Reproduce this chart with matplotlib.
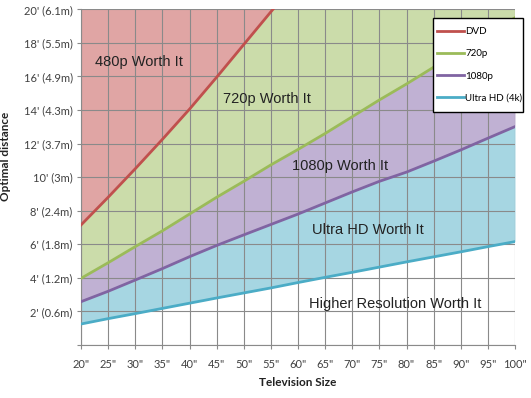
import matplotlib.pyplot as plt
from matplotlib.patches import Rectangle
import numpy as np

# TV size (inches) and optimal viewing distance (feet) for each resolution
sizes = [20, 25, 30, 35, 40, 45, 50, 55, 60, 65, 70, 75, 80, 85, 90, 95, 100]
dvd = [7.15, 8.8, 10.5, 12.25, 14.05, 15.95, 17.9, 19.85, 21.8, 23.75, 25.7, 27.65, 29.6, 31.55, 33.5, 35.45, 37.4]
p720 = [3.97, 4.9, 5.86, 6.8, 7.8, 8.8, 9.75, 10.73, 11.65, 12.6, 13.6, 14.6, 15.55, 16.55, 17.5, 18.5, 19.5]
p1080 = [2.58, 3.2, 3.87, 4.55, 5.26, 5.93, 6.56, 7.18, 7.8, 8.46, 9.12, 9.75, 10.3, 10.95, 11.62, 12.32, 13.01]
uhd = [1.25, 1.57, 1.87, 2.18, 2.49, 2.8, 3.1, 3.4, 3.72, 4.03, 4.33, 4.64, 4.95, 5.25, 5.55, 5.86, 6.16]

ytick_vals = [2, 4, 6, 8, 10, 12, 14, 16, 18, 20]
ytick_labels = ["2' (0.6m)", "4' (1.2m)", "6' (1.8m)", "8' (2.4m)", "10' (3m)",
                "12' (3.7m)", "14' (4.3m)", "16' (4.9m)", "18' (5.5m)", "20' (6.1m)"]
xtick_labels = ['%d"' % s for s in range(20, 101, 5)]

plt.rcParams['font.family'] = ['Lato', 'DejaVu Sans']

fig = plt.figure(figsize=(5.31, 3.98), dpi=100)
ax = fig.add_axes([81 / 531, 1 - 345 / 398, 434 / 531, 335.7 / 398])

x = np.array(sizes)
ax.fill_between(x, dvd, 40, color="#e0a5a4", lw=0)
ax.fill_between(x, p720, dvd, color="#cbdcaa", lw=0)
ax.fill_between(x, p1080, p720, color="#c0b1d3", lw=0)
ax.fill_between(x, uhd, p1080, color="#a6d6e2", lw=0)

ax.plot(x, dvd, color="#c0504d", lw=2, label="DVD", zorder=3)
ax.plot(x, p720, color="#9bbb59", lw=2, label="720p", zorder=3)
ax.plot(x, p1080, color="#8064a2", lw=2, label="1080p", zorder=3)
ax.plot(x, uhd, color="#4bacc6", lw=2, label="Ultra HD (4k)", zorder=3)

ax.set_xlim(20, 100)
ax.set_ylim(0, 20)
ax.set_xticks(range(20, 101, 5))
ax.set_xticklabels(xtick_labels)
ax.set_yticks([0] + ytick_vals)
ax.set_yticklabels([""] + ytick_labels)
ax.grid(True, color="#8a8a8a", lw=0.8, zorder=2)
ax.set_axisbelow(False)
for s in ["top", "right"]:
    ax.spines[s].set_visible(False)
for s in ["left", "bottom"]:
    ax.spines[s].set_color("#8a8a8a")
ax.tick_params(colors="#8a8a8a", labelcolor="#404040", labelsize=8, length=3)
ax.tick_params(axis="x", pad=7)
ax.tick_params(axis="y", pad=3)

fig.text(298 / 531, 1 - 382 / 398, "Television Size", ha="center", va="center",
         fontsize=8.5, fontweight="bold", color="#222222")
fig.text(6 / 531, 1 - 156 / 398, "Optimal distance", ha="center", va="center",
         rotation=90, fontsize=8.5, fontweight="bold", color="#222222")

region_font = dict(fontsize=10.5, family="Liberation Sans", color="#222222",
                   ha="center", va="center", zorder=4)
ax.text(30.7, 16.87, "480p Worth It", **region_font)
ax.text(54.3, 14.66, "720p Worth It", **region_font)
ax.text(67.7, 10.67, "1080p Worth It", **region_font)
ax.text(72.8, 6.85, "Ultra HD Worth It", **region_font)
ax.text(78.0, 2.44, "Higher Resolution Worth It", **region_font)

# legend box: tight at the sides, roomy top and bottom
box = Rectangle((433 / 531, 1 - 112 / 398), 90 / 531, 94 / 398, transform=fig.transFigure,
                facecolor="white", edgecolor="black", lw=1.0, clip_on=False, zorder=4.5)
ax.add_patch(box)
leg = ax.legend(loc="center left", bbox_to_anchor=(437 / 531, 1 - 65 / 398),
                bbox_transform=fig.transFigure, borderaxespad=0, borderpad=0,
                frameon=False, fontsize=7, labelspacing=1.35,
                handlelength=2.8, handletextpad=0.1)
leg.set_zorder(5)

fig.savefig("out.png", dpi=100)
